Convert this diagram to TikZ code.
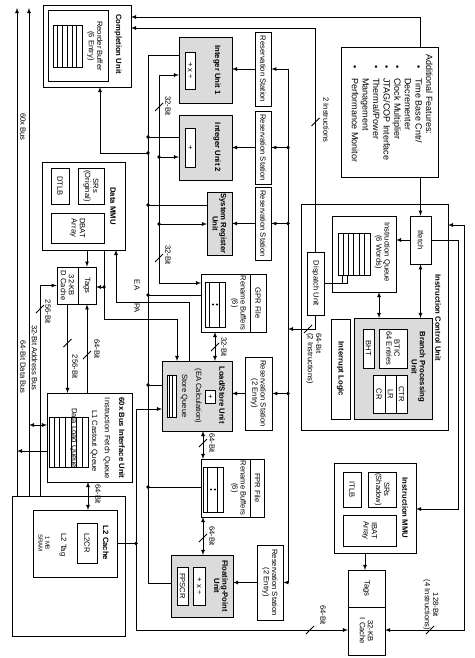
\documentclass[tikz,border=0pt]{standalone}
\usepackage{fontspec}
\setmainfont{Liberation Sans}
\usepackage{tikz}
\usetikzlibrary{arrows}
\newcommand\lblfont{\fontsize{7.6}{8.2}\selectfont}
\newcommand\ttlfont{\fontsize{7.7}{8.4}\selectfont\bfseries}
\newcommand\featitem[1]{\makebox[24pt][l]{\hspace*{11.5pt}\textbullet}#1}
\newcommand\busmark[1]{\draw (#1) ++(4,-4) -- ++(-8,8);}
\tikzset{unit/.style={rectangle, draw, fill=white, inner sep=0pt, align=center, font=\lblfont}}
\tikzset{exec/.style={unit, fill=black!14}}
\tikzset{title/.style={inner sep=0pt, align=center, font=\ttlfont}}
\tikzset{txt/.style={inner sep=0pt, align=center, font=\lblfont}}
\tikzset{line/.style={draw, -latex}}
\tikzset{dline/.style={draw, latex-latex}}

\begin{document}
\begin{tikzpicture}[x=1pt, y=1pt, rotate=-90, transform shape, line width=0.75pt]
\useasboundingbox (0,0) rectangle (658,474);
\fill[white] (0,0) rectangle (658,474);

% completion unit
\node[unit, minimum width=82, minimum height=88] (comp) at (46,87) {};
\node[unit, minimum width=71, minimum height=60] (rob) at (45.5,78) {};
\node[unit, minimum width=42, minimum height=29] (robq) at (46,67.5) {};
\foreach \k in {1,...,5} \draw (robq.south west) ++(0,\k*29/6) -- ++(42,0);
\node[title] (lcomp) at (44,118) {Completion Unit};
\node[txt] (lrob) at (46,95) {Reorder Buffer\\(6 Entry)};

% execution units
\node[exec, minimum width=66, minimum height=53] (iu1) at (70,205.5) {};
\node[unit, minimum width=37, minimum height=10] (iu1a) at (70.5,190) {+ x ÷};
\node[title] (liu1) at (70,217) {Integer Unit 1};
\node[exec, minimum width=65, minimum height=53] (iu2) at (147.5,205.5) {};
\node[unit, minimum width=39, minimum height=10] (iu2a) at (147.5,190) {+};
\node[title] (liu2) at (147.5,217) {Integer Unit 2};
\node[exec, minimum width=63, minimum height=25, font=\ttlfont] (sru) at (223.5,219.5) {System Register\\Unit};

\node[unit, minimum width=74, minimum height=16] (rs1) at (69,263) {Reservation Station};
\node[unit, minimum width=73, minimum height=16] (rs2) at (147.5,263) {Reservation Station};
\node[unit, minimum width=73, minimum height=16] (rs3) at (223.5,263) {Reservation Station};
\node[unit, minimum width=73, minimum height=27] (rsls) at (393.5,258.5) {Reservation Station\\(2 Entry)};
\node[unit, minimum width=75, minimum height=26] (rsfp) at (582.5,270) {Reservation Station\\(2 Entry)};

% register files
\node[unit, minimum width=58, minimum height=65] (gpr) at (303,233.5) {};
\draw (274,250) -- (332,250);
\node[txt] (lgpr) at (303,258) {GPR File};
\node[txt] (lgprb) at (303,238.5) {Rename Buffers\\(6)};
\node[unit, minimum width=45, minimum height=20] (gprs) at (304.5,215) {};
\draw (gprs.south west) ++(0,5) -- ++(45,0);
\draw (gprs.south west) ++(0,15) -- ++(45,0);
\fill (304.5,213) circle (1.1pt); \fill (304.5,217) circle (1.1pt);

\node[unit, minimum width=58, minimum height=63] (fpr) at (488,232.5) {};
\draw (459,250) -- (517,250);
\node[txt] (lfpr) at (488,257.5) {FPR File};
\node[txt] (lfprb) at (488,238.5) {Rename Buffers\\(6)};
\node[unit, minimum width=45, minimum height=20] (fprs) at (489.5,213) {};
\draw (fprs.south west) ++(0,5) -- ++(45,0);
\draw (fprs.south west) ++(0,15) -- ++(45,0);
\fill (489.5,211) circle (1.1pt); \fill (489.5,215) circle (1.1pt);

% load/store and floating point
\node[exec, minimum width=70, minimum height=70] (lsu) at (396,197) {};
\node[title] (llsu) at (395,222) {Load/Store Unit};
\node[unit, minimum width=13, minimum height=10] (lsua) at (396.5,210) {+};
\node[txt] (lea) at (396,198) {(EA Calculation)};
\node[unit, minimum width=42, minimum height=9] (stq) at (396,171.5) {};
\foreach \k in {1,2} \draw (stq.south west) ++(0,\k*3) -- ++(42,0);
\node[txt] (lstq) at (396,184) {Store Queue};

\node[exec, minimum width=62, minimum height=62] (fpu) at (586,202) {};
\node[title] (lfpu) at (586,221) {Floating-Point\\Unit};
\node[unit, minimum width=38, minimum height=12] (fpux) at (586,199) {+ x ÷};
\node[unit, minimum width=38, minimum height=11] (fpscr) at (586,182.5) {FPSCR};

% data side
\node[unit, minimum width=88, minimum height=83] (dmmu) at (206,83.5) {};
\node[title] (ldmmu) at (206,113) {Data MMU};
\node[unit, minimum width=36, minimum height=26] (srs1) at (186,91) {SRs\\(Original)};
\node[unit, minimum width=36, minimum height=18] (dtlb) at (186,60) {DTLB};
\node[unit, minimum width=30, minimum height=53] (dbat) at (228,77.5) {DBAT\\Array};
\node[unit, minimum width=37, minimum height=18] (dtags) at (285.5,87) {Tags};
\node[unit, minimum width=37, minimum height=21] (dcache) at (285.5,67.5) {32-KB\\D Cache};

\node[unit, minimum width=89, minimum height=85] (biu) at (437.5,89.5) {};
\node[unit, minimum width=50, minimum height=39] (biuq) at (442,68.5) {};
\foreach \k in {1,...,6} \draw (biuq.south west) ++(0,\k*39/7) -- ++(50,0);
\node[title] (lbiu) at (438,122) {60x Bus Interface Unit};
\node[txt] (lifq) at (438.5,107) {Instruction Fetch Queue};
\node[txt] (lcoq) at (441,94) {L1 Castout Queue};
\node[txt] (ldlq) at (438,74) {Data Load Queue};

\node[unit, minimum width=140, minimum height=113] (l2) at (566,68.5) {};
\node[unit, minimum width=67, minimum height=84] (l2in) at (543.5,75) {};
\node[title] (ll2) at (543,106) {L2 Cache};
\node[unit, minimum width=40, minimum height=20] (l2cr) at (543,87) {L2CR};
\node[txt] (ll2tag) at (545,63) {L2 Tag};
\node[txt, font=\fontsize{6}{7}\selectfont] (lsram) at (543,44) {1 MB\\SRAM};

% instruction side
\node[unit, minimum width=130, minimum height=97] (feat) at (112,389.5) {};
\node[anchor=north west, inner sep=0pt, align=left, font=\fontsize{9}{10.6}\selectfont] (lfeat) at (54,433)
  {Additional Features:\\ \featitem{Time Base Cntr/}\\ \hspace*{24pt}Decrementer\\ \featitem{Clock Multiplier}\\
   \featitem{JTAG/COP Interface}\\ \featitem{Thermal/Power}\\ \hspace*{24pt}Management\\ \featitem{Performance Monitor}};

\node[unit, minimum width=226, minimum height=147] (icu) at (317,374.5) {};
\node[title] (licu) at (318,438) {Instruction Control Unit};
\node[unit, minimum width=48, minimum height=21] (ifetch) at (240,420.5) {Ifetch};
\node[unit, minimum width=76, minimum height=64] (iq) at (254,364) {};
\node[txt] (liq) at (252,382.5) {Instruction Queue\\(6 Words)};
\node[unit, minimum width=42, minimum height=32] (iqs) at (254,354) {};
\foreach \k in {1,...,5} \draw (iqs.south west) ++(0,\k*32/6) -- ++(42,0);
\node[unit, minimum width=63, minimum height=17] (disp) at (283.5,315.5) {Dispatch Unit};
\node[exec, minimum width=101, minimum height=78] (bpu) at (368.5,393) {};
\node[title] (lbpu) at (367,418.5) {Branch Processing\\Unit};
\node[unit, minimum width=39, minimum height=28] (btic) at (348.5,393) {BTIC\\64 Entries};
\node[unit, minimum width=39, minimum height=11] (bht) at (348.5,368.5) {BHT};
\node[unit, minimum width=38, minimum height=11] (ctr) at (394,401.5) {CTR};
\node[unit, minimum width=38, minimum height=11] (lr) at (394,390.5) {LR};
\node[unit, minimum width=38, minimum height=12] (cr) at (394,379) {CR};
\node[unit, minimum width=100, minimum height=19, font=\ttlfont] (intl) at (369,340.5) {Interrupt Logic};

\node[unit, minimum width=90, minimum height=82] (immu) at (508,375) {};
\node[title] (limmu) at (508,405) {Instruction MMU};
\node[unit, minimum width=35, minimum height=28] (srs2) at (489.5,382) {SRs\\(Shadow)};
\node[unit, minimum width=35, minimum height=18] (itlb) at (489.5,352) {ITLB};
\node[unit, minimum width=31, minimum height=53] (ibat) at (530.5,369.5) {IBAT\\Array};
\node[unit, minimum width=37, minimum height=37] (itags) at (588.5,366.5) {Tags};
\node[unit, minimum width=48, minimum height=37] (icache) at (631,366.5) {32-KB\\I Cache};

% buses on the left
\path[line] (496,17) -- (8,17);
\path[line] (496,29) -- (8,29);
\path[line] (496,40) -- (285.5,40) -- (dcache.south);
\node[txt] (lbus) at (127,23) {60x Bus};
\node[txt] (ldbus) at (367,23) {64-Bit Data Bus};
\node[txt] (labus) at (358,34.5) {32-Bit Address Bus};
\node[txt] (l256a) at (312,48) {256-Bit}; \busmark{309,40}
\path[dline] (425,29) -- (425,47);
\path[line] (451,47) -- (451,17);

% data cache paths
\path[line] (250,87) -- (dtags.west);
\path[line] (dcache.east) -- (393,67.5);
\path[line] (393,87) -- (dtags.east);
\node[txt] (l256b) at (367,75) {256-Bit}; \busmark{343,67.5}
\node[txt] (l64a) at (349,97) {64-Bit}; \busmark{355,87}
\path[dline] (482,88) -- (510,88);
\node[txt] (l64b) at (494,98) {64-Bit};
\path[line] (361,189) -- (302,189) -- (302,116) -- (250,116);
\path[line] (250,104) -- (319,104) -- (319,177) -- (361,177);
\path[line] (287,104) -- (287,96);
\fill (287,104) circle (1.8pt);
\node[txt] (lea2) at (285,137) {EA};
\node[txt] (lpa) at (308,137) {PA};

% L2 to load/store and instruction cache
\draw (l2in.north) -- (543.5,136);
\fill (543.5,136) circle (1.8pt);
\path[line] (543.5,136) -- (409,136) -- (409,162);
\path[line] (543.5,136) -- (630,136) -- (630,348);
\node[txt] (l64f) at (615,323) {64-Bit}; \busmark{630,310}
\path[dline] (630,385) -- (630,464) -- (225,464) -- (225,448);
\node[txt] (l128) at (605,431) {128-Bit\\(4 Instructions)}; \busmark{630,430}

% fetch paths
\path[line] (ifetch.north) -- (240,458) -- (509,458) -- (509,416);
\path[line] (553,365) -- (570,365);
\path[line] (ifetch.south) -- (240,396);
\path[dline] (ifetch.east) -- (318,420.5);
\path[dline] (292,379) -- (318,379);
\path[line] (177,420.5) -- (ifetch.west);
\path[line] (47,420.5) -- (17,420.5) -- (17,131);
\draw (disp.north) -- (283.5,347) -- (275,347);
\draw (275,342) -- (283.5,342);

% dispatch
\path[line] (disp.west) -- (28,315.5) -- (28,131);
\node[txt] (l2ins) at (120,326) {2 Instructions}; \busmark{122,315.5}
\path[line] (disp.east) -- (329,315.5) -- (329,288);
\node[txt, align=left, anchor=west] (l64d) at (333,314) {64-Bit\\(2 Instructions)}; \busmark{329,308}
\draw (69,288) -- (582.5,288);
\foreach \r/\p in {rs1/69, rs2/147.5, rs3/223.5, rsls/393.5, rsfp/582.5}
  \path[line] (\p,288) -- (\r.north);
\foreach \p in {147.5,223.5,393.5} \fill (\p,288) circle (1.8pt);
\path[line] (rs1.south) -- (69,232);
\path[line] (rs2.south) -- (147.5,232);
\path[line] (rs3.south) -- (223.5,232);
\path[line] (rsls.south) -- (393.5,232);
\path[line] (rsfp.south) -- (582.5,233);

% operand bus
\path[dline] (75,179) -- (75,159) -- (283,159) -- (283,201);
\path[line] (157,159) -- (157,179);
\path[line] (224,159) -- (224,207);
\fill (157,159) circle (1.8pt); \fill (224,159) circle (1.8pt);
\node[txt] (l32a) at (106,168) {32-Bit}; \busmark{107,159}
\node[txt] (l32b) at (255,168) {32-Bit}; \busmark{258,159}

% result bus
\draw (55,179) -- (55,148) -- (583,148) -- (583,171);
\draw (137,148) -- (137,179);
\draw (205,148) -- (205,207);
\draw (295,148) -- (295,201);
\draw (385,148) -- (385,162);
\draw (487,148) -- (487,201);
\path[line] (153,148) -- (153,100) -- (87,100);
\foreach \p in {137,153,205,295,385,487} \fill (\p,148) circle (1.8pt);

% register file ports
\path[dline] (332,215) -- (361,215);
\node[txt] (l32c) at (347,224) {32-Bit}; \busmark{347,215}
\path[dline] (431,203) -- (459,203);
\node[txt] (l64c) at (443,212) {64-Bit}; \busmark{443,203}
\path[dline] (517,203) -- (555,203);
\node[txt] (l64e) at (536,212) {64-Bit}; \busmark{538,203}
\end{tikzpicture}
\end{document}
